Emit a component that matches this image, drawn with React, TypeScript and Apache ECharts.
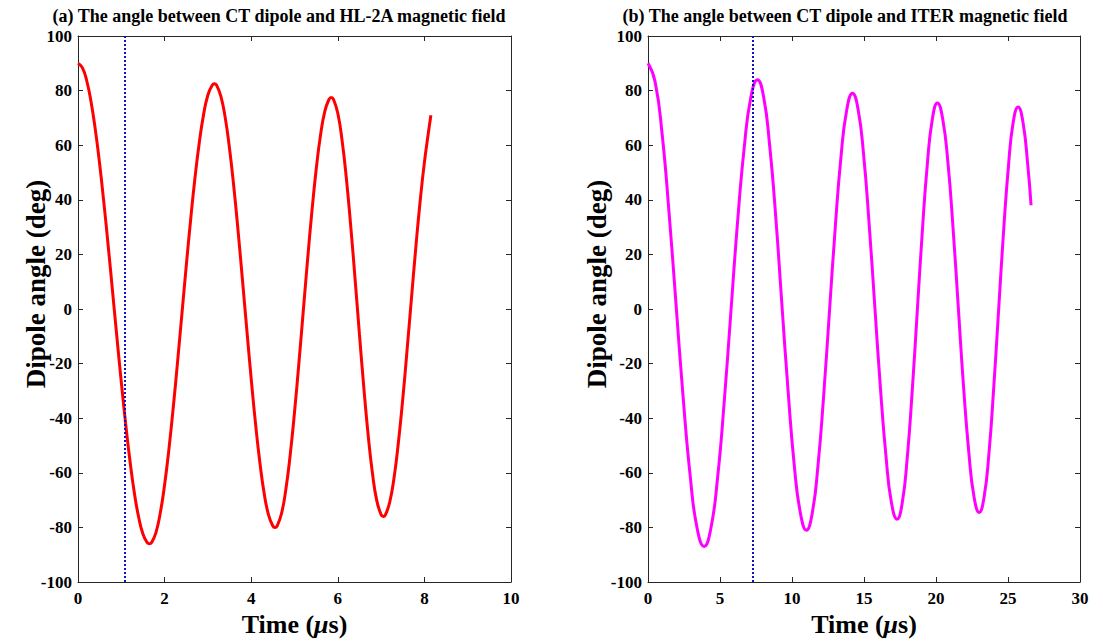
import React, { useEffect, useRef } from "react";
import * as echarts from "echarts";

// (a) HL-2A: time (μs) and dipole angle (deg)
const hlTime = [
  0, 0.1, 0.2, 0.3, 0.4, 0.5, 0.6, 0.7, 0.8, 0.9, 1.0, 1.1, 1.2, 1.3, 1.4, 1.5, 1.6, 1.65,
  1.7, 1.8, 1.9, 2.0, 2.1, 2.2, 2.3, 2.4, 2.5, 2.6, 2.7, 2.8, 2.9, 3.0, 3.1, 3.15,
  3.2, 3.3, 3.4, 3.5, 3.6, 3.7, 3.8, 3.9, 4.0, 4.1, 4.2, 4.3, 4.4, 4.5, 4.55,
  4.6, 4.7, 4.8, 4.9, 5.0, 5.1, 5.2, 5.3, 5.4, 5.5, 5.6, 5.7, 5.8, 5.85,
  5.9, 6.0, 6.1, 6.2, 6.3, 6.4, 6.5, 6.6, 6.7, 6.8, 6.9, 7.0, 7.05,
  7.1, 7.2, 7.3, 7.4, 7.5, 7.6, 7.7, 7.8, 7.9, 8.0, 8.1, 8.15,
];
const hlAngle = [
  90, 88.4, 83.7, 76.0, 65.7, 53.1, 38.5, 22.7, 6.1, -10.6, -26.8, -42, -55.6, -67.2, -76.2, -82.4, -85.6, -86,
  -85.5, -81.9, -74.7, -64.4, -51.3, -36.0, -19.3, -1.75, 15.8, 32.5, 47.8, 60.8, 71.2, 78.4, 82.0, 82.5,
  82.0, 77.9, 70.1, 58.7, 44.5, 28.1, 10.3, -7.8, -25.6, -42.0, -56.2, -67.6, -75.4, -79.5, -80,
  -79.4, -74.9, -66.1, -53.5, -37.9, -20.1, -1.25, 17.6, 35.4, 51.0, 63.6, 72.4, 76.9, 77.5,
  76.8, 71.7, 61.6, 47.5, 30.1, 10.8, -9.3, -28.6, -46.0, -60.1, -70.2, -75.3, -76,
  -75.4, -70.7, -61.7, -48.8, -33.0, -15.0, 3.7, 22.2, 39.2, 53.7, 65.5, 71,
];

// (b) ITER: time (μs) and dipole angle (deg)
const iterTime = [
  0, 0.49, 0.98, 1.46, 1.95, 2.44, 2.93, 3.41, 3.9,
  4.36, 4.83, 5.29, 5.75, 6.21, 6.68, 7.14, 7.6,
  8.03, 8.45, 8.88, 9.3, 9.73, 10.15, 10.58, 11.0,
  11.4, 11.8, 12.2, 12.6, 13.0, 13.4, 13.8, 14.2,
  14.59, 14.98, 15.36, 15.75, 16.14, 16.53, 16.91, 17.3,
  17.65, 18.0, 18.35, 18.7, 19.05, 19.4, 19.75, 20.1,
  20.46, 20.83, 21.19, 21.55, 21.91, 22.28, 22.64, 23.0,
  23.34, 23.68, 24.01, 24.35, 24.69, 25.03, 25.36, 25.7,
  26.04, 26.38, 26.6,
];
const iterAngle = [
  90, 83.3, 64.1, 35.4, 1.5, -32.4, -61.1, -80.3, -87,
  -80.5, -61.9, -34.2, -1.5, 31.2, 59.0, 77.5, 84,
  77.7, 59.8, 33.1, 1.5, -30.1, -56.8, -74.7, -81,
  -74.9, -57.6, -31.6, -1, 29.6, 55.6, 72.9, 79,
  73.1, 56.1, 30.9, 1, -28.9, -54.1, -71.1, -77,
  -71.2, -54.7, -29.9, -0.75, 28.4, 53.2, 69.7, 75.5,
  69.8, 53.5, 29.2, 0.5, -28.2, -52.5, -68.8, -74.5,
  -68.9, -52.7, -28.7, -0.25, 28.2, 52.2, 68.4, 74,
  68.4, 52.3, 38,
];

const hlMarker = 1.07;
const iterMarker = 7.3;

const titles = [
  "(a) The angle between CT dipole and HL-2A magnetic field",
  "(b) The angle between CT dipole and ITER magnetic field",
];
const yLabel = "Dipole angle (deg)";

const FONT = "'Liberation Serif', 'Times New Roman', serif";
const AXIS_COLOR = "#262626";

function pairs(xs: number[], ys: number[]) {
  return xs.map((x, i) => [x, ys[i]]);
}

function xAxisDef(gridIndex: number, max: number, interval: number, top: boolean) {
  return {
    type: "value",
    gridIndex,
    position: top ? "top" : "bottom",
    min: 0,
    max,
    interval,
    name: top ? "" : "Time ({i|μ}s)",
    nameLocation: "middle",
    nameGap: 29,
    nameTextStyle: {
      fontFamily: FONT,
      fontSize: 26,
      fontWeight: "bold",
      color: "#000",
      rich: {
        i: { fontFamily: FONT, fontSize: 26, fontWeight: "bold", fontStyle: "italic", color: "#000" },
      },
    },
    axisLine: { show: true, onZero: false, lineStyle: { color: AXIS_COLOR, width: 1 } },
    axisTick: { show: true, inside: true, length: 5, lineStyle: { color: AXIS_COLOR, width: 1 } },
    axisLabel: {
      show: !top,
      margin: 8,
      fontFamily: FONT,
      fontSize: 17,
      fontWeight: "bold",
      color: "#000",
    },
    splitLine: { show: false },
  };
}

function yAxisDef(gridIndex: number, right: boolean) {
  return {
    type: "value",
    gridIndex,
    position: right ? "right" : "left",
    min: -100,
    max: 100,
    interval: 20,
    axisLine: { show: true, onZero: false, lineStyle: { color: AXIS_COLOR, width: 1 } },
    axisTick: { show: true, inside: true, length: 5, lineStyle: { color: AXIS_COLOR, width: 1 } },
    axisLabel: {
      show: !right,
      margin: 6,
      fontFamily: FONT,
      fontSize: 17,
      fontWeight: "bold",
      color: "#000",
    },
    splitLine: { show: false },
  };
}

function markerLine(x: number) {
  return {
    silent: true,
    symbol: ["none", "none"],
    label: { show: false },
    lineStyle: { color: "#1010c8", type: "dotted", width: 2 },
    data: [{ xAxis: x }],
  };
}

function textEl(text: string, x: number, y: number, size: number, rotation = 0) {
  return {
    type: "text",
    x,
    y,
    rotation,
    style: {
      text,
      fontFamily: FONT,
      fontSize: size,
      fontWeight: "bold",
      fill: "#000",
      align: "center",
      verticalAlign: "middle",
    },
  };
}

export default function App() {
  const ref = useRef<HTMLDivElement>(null);

  useEffect(() => {
    document.body.style.margin = "0";
    if (!ref.current) return;
    const chart = echarts.init(ref.current, null, { renderer: "svg" });
    chart.setOption({
      animation: false,
      backgroundColor: "#fff",
      grid: [
        { left: 78, top: 36, width: 433, height: 546 },
        { left: 648, top: 36, width: 432, height: 546 },
      ],
      xAxis: [
        xAxisDef(0, 10, 2, false),
        xAxisDef(0, 10, 2, true),
        xAxisDef(1, 30, 5, false),
        xAxisDef(1, 30, 5, true),
      ],
      yAxis: [yAxisDef(0, false), yAxisDef(0, true), yAxisDef(1, false), yAxisDef(1, true)],
      graphic: [
        textEl(titles[0], 279, 16, 18),
        textEl(titles[1], 845, 16, 18),
        textEl(yLabel, 36, 284, 27, Math.PI / 2),
        textEl(yLabel, 597, 284, 27, Math.PI / 2),
      ],
      series: [
        {
          type: "line",
          xAxisIndex: 0,
          yAxisIndex: 0,
          data: pairs(hlTime, hlAngle),
          showSymbol: false,
          smooth: true,
          lineStyle: { color: "#ff0000", width: 3 },
          itemStyle: { color: "#ff0000" },
          markLine: markerLine(hlMarker),
          z: 3,
        },
        {
          type: "line",
          xAxisIndex: 2,
          yAxisIndex: 2,
          data: pairs(iterTime, iterAngle),
          showSymbol: false,
          smooth: true,
          lineStyle: { color: "#ff00ff", width: 3 },
          itemStyle: { color: "#ff00ff" },
          markLine: markerLine(iterMarker),
          z: 3,
        },
      ],
    });
    return () => chart.dispose();
  }, []);

  return <div ref={ref} style={{ width: 1103, height: 644 }} />;
}
